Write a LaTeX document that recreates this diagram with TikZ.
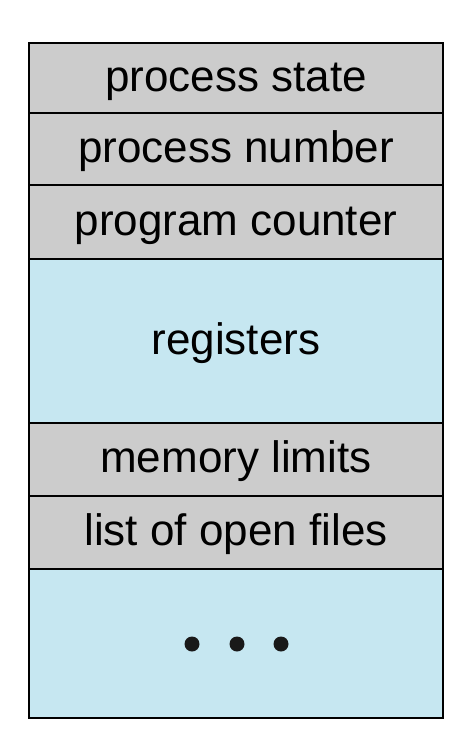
\documentclass[tikz,border=0pt]{standalone}
\usepackage{fontspec}
\setmainfont{Liberation Sans}
\definecolor{cellgray}{HTML}{CCCCCC}
\definecolor{cellblue}{HTML}{C6E7F1}
\begin{document}
\begin{tikzpicture}[x=1pt,y=-1pt,
  cell/.style={draw=black,line width=2.2pt,inner sep=0pt,minimum width=414pt,
    font=\fontsize{44}{48}\selectfont,text height=33pt,text depth=7pt},
  graycell/.style={cell,fill=cellgray},
  bluecell/.style={cell,fill=cellblue},
  dot/.style={circle,fill=black!90,inner sep=0pt,minimum size=15pt}]
\useasboundingbox (0,0) rectangle (474,756);
\node[graycell,minimum height=70pt] (state) at (236,78) {process state};
\node[graycell,minimum height=72pt] (number) at (236,149) {process number};
\node[graycell,minimum height=74pt] (pc) at (236,222) {program counter};
\node[bluecell,minimum height=164pt] (regs) at (236,341) {registers};
\node[graycell,minimum height=73pt] (mem) at (236,459.5) {memory limits};
\node[graycell,minimum height=73pt] (files) at (236,532.5) {list of open files};
\node[bluecell,minimum height=149pt] (more) at (236,643.5) {};
\node[dot] (d1) at (192,644) {};
\node[dot] (d2) at (237,644) {};
\node[dot] (d3) at (281,644) {};
\end{tikzpicture}
\end{document}
